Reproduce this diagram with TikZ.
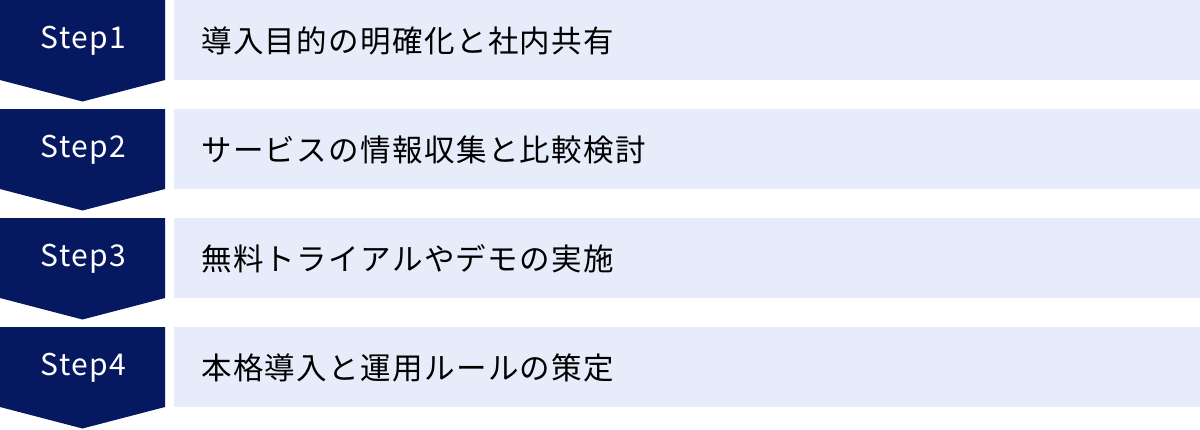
\documentclass[tikz,border=0pt]{standalone}
\usepackage{fontspec}
\setmainfont{Noto Sans CJK JP}
\newfontfamily\stepfont[LetterSpace=5]{Noto Sans CJK JP}
\newfontfamily\barfont[LetterSpace=4.5]{Noto Sans CJK JP}
\definecolor{navy}{HTML}{06185F}
\definecolor{pale}{HTML}{E6ECF9}
\begin{document}
\begin{tikzpicture}[x=1pt,y=-1pt,
  stepshape/.style={fill=navy,draw=none},
  barshape/.style={fill=pale,draw=none},
  steplabel/.style={text=white,font=\stepfont\fontsize{30}{30}\selectfont,inner sep=0pt,anchor=center},
  barlabel/.style={text=black,font=\barfont\fontsize{30.5}{31}\selectfont,inner sep=0pt,anchor=west}]
\useasboundingbox (0,0) rectangle (1200,429);
\foreach \i/\t in {1/導入目的の明確化と社内共有,2/サービスの情報収集と比較検討,3/無料トライアルやデモの実施,4/本格導入と運用ルールの策定}{
  \pgfmathsetmacro{\yy}{(\i-1)*109}
  \begin{scope}[yshift=-\yy pt]
    \fill[stepshape] (0,0) -- (165,0) -- (165,80) -- (82.5,101.5) -- (0,80) -- cycle;
    \fill[barshape] (174,0) rectangle (1200,80);
    \node[steplabel] (s\i) at (83.5,41) {Step\i};
    \node[barlabel] (t\i) at (201,40.5) {\t};
  \end{scope}
}
\end{tikzpicture}
\end{document}
